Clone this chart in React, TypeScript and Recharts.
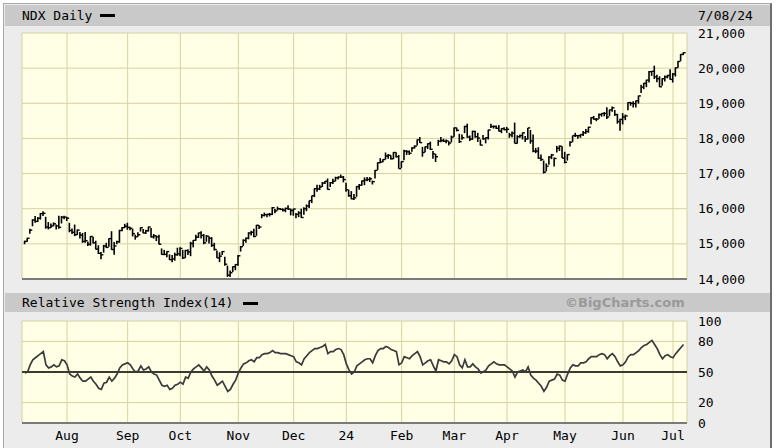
import React from 'react';
import {
  ComposedChart,
  Bar,
  LineChart,
  Line,
  XAxis,
  YAxis,
  CartesianGrid,
  ReferenceLine,
  ReferenceArea,
} from 'recharts';

// trading days per month segment (Jul-2023 partial ... Jul-2024 partial)
const monthDays = [16, 23, 20, 22, 21, 20, 21, 20, 20, 22, 22, 19, 5];
const monthLabels = ['', 'Aug', 'Sep', 'Oct', 'Nov', 'Dec', '24', 'Feb', 'Mar', 'Apr', 'May', 'Jun', 'Jul'];

const priceTicks = [14000, 15000, 16000, 17000, 18000, 19000, 20000, 21000];
const rsiTicks = [0, 20, 50, 80, 100];

const closes = [
  // Jul 23
  15070, 15160, 15390, 15680, 15640, 15730, 15860, 15870, 15480, 15460, 15510, 15570, 15510, 15470, 15760, 15760,
  // Aug
  15730, 15380, 15330, 15260, 15390, 15250, 15070, 15090, 14990, 15210, 15030, 14850, 14730, 14690, 14940, 14900, 15150, 14840, 14940, 15060, 15380, 15460, 15500,
  // Sep
  15470, 15440, 15290, 15200, 15260, 15460, 15310, 15370, 15480, 15200, 15230, 15200, 14990, 14700, 14700, 14780, 14550, 14570, 14690, 14715,
  // Oct
  14870, 14600, 14810, 14770, 15010, 15100, 15190, 15310, 15240, 15030, 15220, 15160, 14960, 14840, 14600, 14650, 14780, 14420, 14110, 14180, 14350, 14410,
  // Nov
  14660, 14920, 15100, 15160, 15310, 15330, 15210, 15530, 15480, 15810, 15830, 15840, 15840, 16030, 15940, 16000, 15980, 15960, 16010, 15990, 15950,
  // Dec
  15990, 15840, 15880, 15750, 16000, 16080, 16230, 16370, 16570, 16560, 16620, 16730, 16780, 16550, 16740, 16780, 16880, 16900, 16900, 16830,
  // Jan 24
  16540, 16370, 16280, 16310, 16630, 16670, 16790, 16820, 16830, 16850, 16770, 17090, 17310, 17330, 17400, 17500, 17520, 17420, 17600, 17480, 17140,
  // Feb
  17340, 17640, 17620, 17580, 17730, 17780, 17960, 17880, 17600, 17760, 17850, 17690, 17560, 17480, 17920, 17940, 17920, 17930, 17870, 18040,
  // Mar
  18300, 18230, 17910, 18020, 18340, 18040, 17980, 18200, 18050, 18010, 17810, 17990, 18020, 18240, 18340, 18340, 18290, 18210, 18280, 18250,
  // Apr
  18260, 18100, 18150, 17860, 18050, 18080, 18160, 17980, 18300, 17930, 17640, 17640, 17440, 17400, 17040, 17210, 17470, 17530, 17430, 17720, 17780, 17440,
  // May
  17320, 17540, 17890, 18080, 18080, 18080, 18110, 18160, 18200, 18320, 18590, 18550, 18550, 18680, 18710, 18710, 18610, 18810, 18870, 18680, 18480, 18540,
  // Jun
  18610, 18640, 19020, 19000, 18990, 19070, 19210, 19460, 19570, 19660, 19900, 19910, 19750, 19700, 19470, 19700, 19750, 19790, 19680,
  // Jul
  19830, 20010, 20190, 20390, 20440,
];

const highs = [
  15090, 15170, 15430, 15700, 15790, 15760, 15880, 15930, 15770, 15620, 15580, 15610, 15550, 15800, 15790, 15800,
  15770, 15600, 15440, 15550, 15410, 15340, 15310, 15340, 15070, 15220, 15200, 15090, 14960, 14770, 14970, 15030, 15160, 15360, 15050, 15090, 15400, 15480, 15570,
  15600, 15490, 15430, 15260, 15330, 15470, 15420, 15400, 15490, 15450, 15280, 15240, 15260, 14870, 14830, 14790, 14700, 14680, 14750, 14890,
  14900, 14830, 14830, 14850, 15060, 15110, 15260, 15320, 15360, 15280, 15250, 15220, 15190, 15030, 14810, 14760, 14800, 14630, 14380, 14240, 14360, 14420,
  14680, 14940, 15130, 15180, 15330, 15370, 15430, 15540, 15530, 15850, 15890, 15860, 15880, 16050, 15990, 16060, 16020, 16010, 16030, 16100, 16000,
  16000, 15880, 15930, 16000, 16040, 16120, 16230, 16370, 16580, 16680, 16680, 16760, 16790, 16860, 16760, 16850, 16910, 16920, 16970, 16930,
  16740, 16540, 16500, 16420, 16640, 16700, 16800, 16890, 16900, 16900, 16800, 17100, 17320, 17440, 17410, 17600, 17560, 17520, 17610, 17610, 17530,
  17350, 17680, 17670, 17660, 17750, 17800, 17970, 18040, 17760, 17770, 17860, 17910, 17640, 17560, 17960, 18040, 17990, 17970, 17920, 18080,
  18310, 18310, 18130, 18110, 18360, 18420, 18080, 18220, 18220, 18160, 17970, 18100, 18030, 18250, 18420, 18370, 18370, 18380, 18290, 18320,
  18330, 18160, 18200, 18450, 18090, 18110, 18170, 18070, 18300, 18240, 18110, 17730, 17750, 17540, 17370, 17290, 17490, 17560, 17460, 17790, 17800, 17780,
  17620, 17550, 17920, 18080, 18160, 18100, 18120, 18210, 18270, 18330, 18600, 18640, 18580, 18710, 18720, 18750, 18890, 18820, 18910, 18810, 18700, 18560,
  18720, 18680, 19030, 19040, 19060, 19080, 19220, 19530, 19580, 19670, 19920, 19920, 20070, 19810, 19770, 19710, 19790, 19810, 19970,
  19860, 20020, 20200, 20400, 20450,
];

const lows = [
  14990, 15060, 15290, 15500, 15600, 15620, 15690, 15790, 15430, 15410, 15450, 15500, 15410, 15430, 15580, 15700,
  15650, 15330, 15280, 15220, 15250, 15150, 15030, 15030, 14940, 14950, 15010, 14840, 14710, 14560, 14750, 14880, 14920, 14830, 14690, 14990, 15030, 15360, 15450,
  15400, 15390, 15210, 15120, 15200, 15350, 15300, 15280, 15350, 15180, 15150, 15080, 14980, 14690, 14680, 14620, 14540, 14480, 14520, 14660,
  14650, 14570, 14600, 14680, 14650, 14900, 15090, 15170, 15150, 14990, 15060, 15010, 14910, 14810, 14600, 14480, 14680, 14380, 14060, 14060, 14200, 14250,
  14380, 14780, 14940, 15030, 15130, 15240, 15190, 15230, 15420, 15730, 15780, 15760, 15780, 15820, 15870, 15950, 15960, 15920, 15900, 15970, 15810,
  15800, 15730, 15760, 15740, 15830, 15930, 16020, 16160, 16330, 16480, 16530, 16620, 16700, 16540, 16620, 16700, 16780, 16830, 16880, 16750,
  16480, 16340, 16270, 16250, 16340, 16540, 16650, 16670, 16780, 16760, 16690, 16860, 17100, 17290, 17320, 17400, 17420, 17400, 17410, 17460, 17140,
  17160, 17380, 17530, 17530, 17620, 17710, 17800, 17870, 17480, 17610, 17700, 17670, 17420, 17330, 17790, 17890, 17900, 17860, 17800, 17890,
  18050, 18200, 17870, 17960, 18150, 18020, 17930, 17960, 18020, 17900, 17800, 17960, 17860, 17970, 18300, 18280, 18270, 18200, 18150, 18230,
  18160, 18020, 18030, 17860, 17850, 18020, 17970, 17900, 17970, 17850, 17610, 17580, 17420, 17360, 17000, 17060, 17250, 17410, 17200, 17600, 17640, 17440,
  17290, 17370, 17770, 17900, 18040, 17990, 18020, 18070, 18130, 18160, 18400, 18530, 18490, 18560, 18620, 18630, 18550, 18640, 18760, 18640, 18420, 18220,
  18400, 18520, 18800, 18930, 18880, 18880, 18990, 19290, 19400, 19460, 19590, 19780, 19690, 19600, 19460, 19500, 19620, 19710, 19670,
  19590, 19760, 20010, 20200, 20370,
];

const rsi = [
  49, 50, 57, 62, 64, 66, 68, 70, 57, 54, 55, 57, 55, 56, 62, 61,
  57, 48, 46, 45, 48, 44, 41, 41, 43, 45, 41, 38, 34, 33, 39, 40, 45, 41, 44, 48, 54, 57, 58,
  59, 57, 53, 50, 51, 56, 52, 53, 55, 50, 48, 47, 42, 37, 36, 37, 33, 34, 37, 38,
  40, 38, 45, 44, 50, 53, 55, 57, 54, 51, 55, 52, 46, 42, 37, 39, 41, 36, 31, 33, 38, 42,
  49, 54, 58, 59, 61, 62, 60, 64, 64, 67, 68, 68, 69, 71, 69, 69, 68, 68, 68, 67, 66,
  65, 60, 59, 57, 63, 66, 69, 71, 73, 73, 74, 75, 77, 68, 70, 70, 72, 73, 72, 67,
  58, 52, 48, 50, 56, 58, 60, 62, 63, 63, 59, 66, 71, 73, 73, 75, 74, 72, 71, 70, 57,
  59, 65, 64, 63, 66, 68, 70, 65, 57, 59, 61, 62, 56, 51, 62, 61, 60, 60, 58, 61,
  67, 65, 57, 54, 62, 55, 55, 58, 55, 53, 49, 50, 52, 56, 58, 60, 58, 57, 57, 57,
  55, 53, 51, 45, 50, 51, 52, 50, 55, 47, 44, 42, 39, 36, 31, 35, 41, 42, 43, 48, 47, 42,
  41, 48, 54, 57, 56, 56, 59, 59, 60, 63, 65, 65, 65, 67, 68, 67, 63, 66, 68, 65, 60, 56,
  57, 60, 65, 67, 67, 69, 71, 74, 76, 77, 79, 81, 77, 73, 67, 63, 66, 67, 65,
  64, 68, 71, 74, 77,
];

// ---- derived tables ----
const monthTicks: number[] = [];
const tickLabel: Record<number, string> = {};
{
  let acc = 0;
  monthDays.forEach((d, k) => {
    if (k > 0) {
      monthTicks.push(acc);
      tickLabel[acc] = monthLabels[k];
    }
    acc += d;
  });
}

const data = closes.map((c, i) => ({
  i,
  range: [lows[i], highs[i]],
  close: c,
  rsi: rsi[i],
}));

const X_DOMAIN: [number, number] = [-1.1, 251.3];
const GRID = '#d6d2a2';
const PLOT_BG = '#ffffe6';
const MONO = '"DejaVu Sans Mono", monospace';

const HLCShape = (props: any) => {
  const { x, y, width, height, payload } = props;
  if (x == null || y == null || !payload) return null;
  const top = Math.min(y, y + height);
  const h = Math.max(1.5, Math.abs(height));
  const lo = payload.range[0];
  const hi = payload.range[1];
  const cx = x + width / 2;
  const yc = hi === lo ? top : top + ((hi - payload.close) / (hi - lo)) * h;
  return (
    <g>
      <line x1={cx} x2={cx} y1={top} y2={top + h} stroke="#000" strokeWidth={1.6} />
      <line x1={cx} x2={cx + 2.4} y1={yc} y2={yc} stroke="#000" strokeWidth={1.4} />
    </g>
  );
};

const axisTick = { fontFamily: MONO, fontSize: 13, fill: '#000' };

export default function App() {
  return (
    <div
      style={{
        position: 'absolute',
        left: 0,
        top: 0,
        width: 780,
        height: 448,
        background: '#ffffff',
        overflow: 'hidden',
      }}
    >
      {/* outer frame */}
      <div
        style={{
          position: 'absolute',
          left: 3,
          top: 3,
          width: 769,
          height: 445,
          boxSizing: 'border-box',
          background: '#ececec',
          borderTop: '1px solid #a8a8a8',
          borderLeft: '1px solid #a8a8a8',
          borderRight: '2px solid #6e6e6e',
        }}
      />
      {/* main title bar */}
      <div
        style={{
          position: 'absolute',
          left: 5,
          top: 5,
          width: 765,
          height: 21,
          background: '#c9c9c9',
          fontFamily: MONO,
          fontSize: 13,
          lineHeight: '21px',
          color: '#000',
        }}
      >
        <span style={{ position: 'absolute', left: 17, top: 0 }}>NDX Daily</span>
        <span style={{ position: 'absolute', left: 95, top: 9, width: 15, height: 3, background: '#000' }} />
        <span style={{ position: 'absolute', left: 693, top: 0 }}>7/08/24</span>
      </div>
      {/* RSI title bar */}
      <div
        style={{
          position: 'absolute',
          left: 5,
          top: 293,
          width: 765,
          height: 19,
          background: '#c9c9c9',
          fontFamily: MONO,
          fontSize: 13,
          lineHeight: '19px',
          color: '#000',
        }}
      >
        <span style={{ position: 'absolute', left: 17, top: 0 }}>Relative Strength Index(14)</span>
        <span style={{ position: 'absolute', left: 238, top: 9, width: 15, height: 3, background: '#000' }} />
        <span
          style={{
            position: 'absolute',
            left: 560,
            top: 0,
            fontFamily: '"DejaVu Sans", sans-serif',
            fontWeight: 'bold',
            color: '#9a9a9a',
          }}
        >
          ©BigCharts.com
        </span>
      </div>

      {/* price panel */}
      <div style={{ position: 'absolute', left: 0, top: 0 }}>
        <ComposedChart width={780} height={290} data={data} margin={{ top: 33, right: 23, left: 22, bottom: 11 }}>
          <CartesianGrid stroke={GRID} fill={PLOT_BG} />
          <XAxis type="number" dataKey="i" domain={X_DOMAIN} ticks={monthTicks} allowDataOverflow hide />
          <YAxis
            orientation="right"
            type="number"
            domain={[14000, 21000]}
            ticks={priceTicks}
            interval={0}
            allowDataOverflow
            width={70}
            tickLine={false}
            axisLine={false}
            tickSize={0}
            tickMargin={11}
            tick={axisTick}
            tickFormatter={(v: number) => v.toLocaleString('en-US')}
          />
          <ReferenceArea stroke={GRID} fill="none" ifOverflow="visible" />
          <ReferenceLine y={14000} stroke="#7a7a7a" strokeWidth={2} />
          <Bar dataKey="range" shape={HLCShape} barSize={2} isAnimationActive={false} />
        </ComposedChart>
      </div>

      {/* RSI panel */}
      <div style={{ position: 'absolute', left: 0, top: 300 }}>
        <LineChart width={780} height={148} data={data} margin={{ top: 21, right: 23, left: 22, bottom: 0 }}>
          <CartesianGrid stroke={GRID} fill={PLOT_BG} />
          <XAxis
            type="number"
            dataKey="i"
            domain={X_DOMAIN}
            ticks={monthTicks}
            interval={0}
            allowDataOverflow
            height={25}
            tickLine={false}
            axisLine={false}
            tickSize={0}
            tickMargin={8}
            tick={axisTick}
            tickFormatter={(v: number) => tickLabel[v] ?? ''}
          />
          <YAxis
            orientation="right"
            type="number"
            domain={[0, 100]}
            ticks={rsiTicks}
            interval={0}
            allowDataOverflow
            width={70}
            tickLine={false}
            axisLine={false}
            tickSize={0}
            tickMargin={11}
            tick={axisTick}
          />
          <ReferenceArea stroke={GRID} fill="none" ifOverflow="visible" />
          <ReferenceLine y={50} stroke="#000" strokeWidth={1.5} />
          <ReferenceLine y={0} stroke="#7a7a7a" strokeWidth={2} />
          <Line
            type="linear"
            dataKey="rsi"
            stroke="#3a3a3a"
            strokeWidth={1.7}
            dot={false}
            isAnimationActive={false}
          />
        </LineChart>
      </div>
    </div>
  );
}
